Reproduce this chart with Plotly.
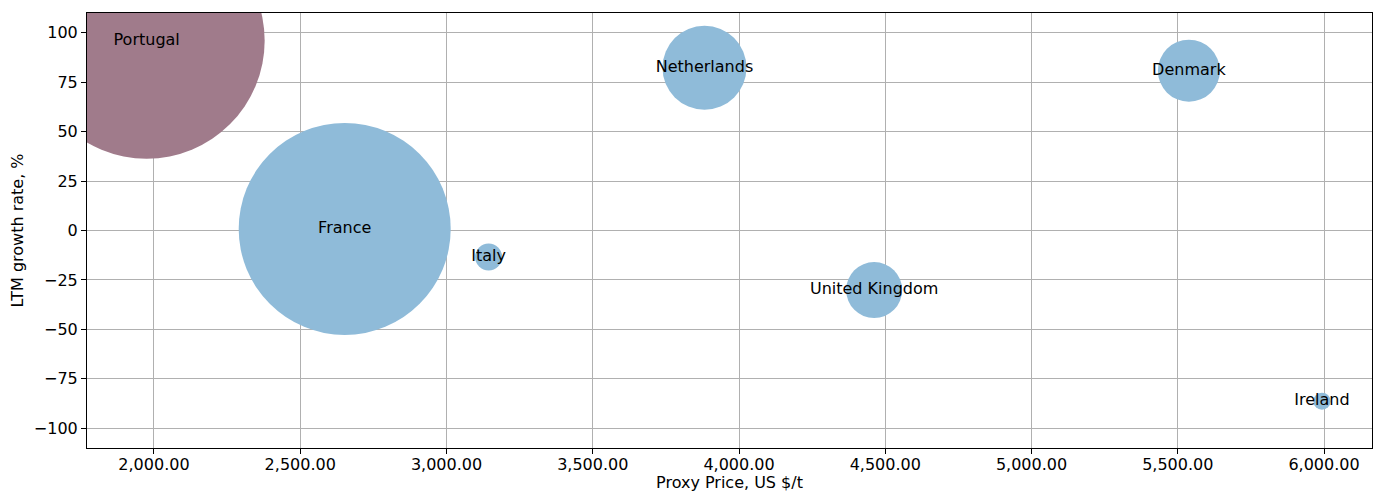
import plotly.graph_objects as go

countries = ["Portugal", "France", "Italy", "Netherlands", "United Kingdom", "Denmark", "Ireland"]
proxy_price = [1975, 2652, 3144, 3882, 4462, 5538, 5993]
growth_rate = [96.0, 0.8, -13.4, 82.3, -30.1, 80.8, -86.3]
volume = [5570, 4494, 73, 706, 314, 384, 29]
colors = ["#a07b8b", "#8fbbd9", "#8fbbd9", "#8fbbd9", "#8fbbd9", "#8fbbd9", "#8fbbd9"]

x_ticks = [2000, 2500, 3000, 3500, 4000, 4500, 5000, 5500, 6000]
y_ticks = [-100, -75, -50, -25, 0, 25, 50, 75, 100]

FONT = "DejaVu Sans"

fig = go.Figure()
fig.add_trace(go.Scatter(
    x=proxy_price,
    y=growth_rate,
    mode="markers+text",
    text=countries,
    textposition="middle center",
    textfont=dict(family=FONT, size=16, color="black"),
    marker=dict(
        size=volume,
        sizemode="area",
        sizeref=0.2,
        color=colors,
        opacity=1,
        line=dict(width=0),
    ),
    cliponaxis=True,
    showlegend=False,
))

axis_common = dict(
    showline=True,
    linecolor="black",
    linewidth=1,
    mirror=True,
    showgrid=True,
    gridcolor="#b0b0b0",
    gridwidth=1,
    zeroline=False,
    ticks="outside",
    ticklen=5,
    tickwidth=1,
    tickcolor="black",
    tickfont=dict(family=FONT, size=16, color="black"),
)

fig.update_layout(
    width=1373,
    height=492,
    margin=dict(l=87, r=1, t=13, b=44),
    paper_bgcolor="white",
    plot_bgcolor="white",
    font=dict(family=FONT, size=16, color="black"),
    xaxis=dict(
        range=[1771, 6164],
        tickvals=x_ticks,
        tickformat=",.2f",
        ticklabelstandoff=-3,
        title=dict(text="Proxy Price, US $/t", font=dict(family=FONT, size=16), standoff=6),
        **axis_common,
    ),
    yaxis=dict(
        range=[-110, 110],
        tickvals=y_ticks,
        title=dict(text="LTM growth rate, %", font=dict(family=FONT, size=16), standoff=6),
        **axis_common,
    ),
)

fig.write_html(
    "out.html",
    config={"displayModeBar": False},
    post_script="document.body.style.margin='0';document.body.style.overflow='hidden';",
)
